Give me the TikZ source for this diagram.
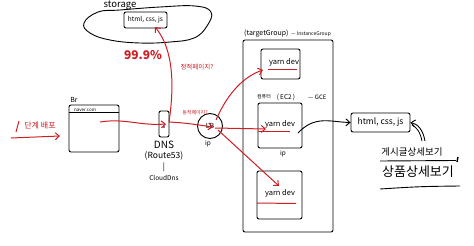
\documentclass[tikz,border=0pt]{standalone}
\usepackage{fontspec}
\setmainfont{Noto Sans CJK KR}
\usetikzlibrary{arrows.meta}
\definecolor{hred}{RGB}{205,30,35}
\begin{document}
\begin{tikzpicture}[x=1pt,y=-1pt,
  box/.style={draw,rounded corners=2pt,line width=0.9pt,inner sep=0pt},
  rline/.style={draw=hred,line width=1pt},
  rarr/.style={draw=hred,line width=1pt,-{Straight Barb[length=4pt,width=7pt]}},
  barr/.style={draw,line width=0.9pt,-{Straight Barb[length=4pt,width=7pt]}},
  lbl/.style={inner sep=0pt},
  rlbl/.style={inner sep=0pt,text=hred}]
\useasboundingbox (0,0) rectangle (474,246);
% storage cloud
\draw[line width=0.9pt] plot[smooth cycle,tension=0.7] coordinates {(84,23) (98,12) (120,10) (160,7) (195,6) (211,12) (207,26) (194,38) (170,42) (140,43) (110,40) (90,33)};
\node[lbl,font=\fontsize{9.5}{10}\selectfont] (storage) at (120,5.5) {storage};
\node[box,minimum width=43pt,minimum height=16pt,font=\fontsize{6.5}{7}\selectfont] (html1) at (145.5,20) {html, css, js};
\node[rlbl,font=\bfseries\fontsize{12}{12}\selectfont] (pct) at (143,55) {99.9\%};
\node[rlbl,font=\fontsize{6.5}{7}\selectfont] (static) at (197,67) {정적페이지?};
% browser
\node[lbl,font=\fontsize{7}{7}\selectfont] (br) at (74,100) {Br};
\node[box,minimum width=50pt,minimum height=47pt] (browser) at (94,128.5) {};
\draw[line width=0.8pt] (browser.north west) ++(0,8) -- ++(50,0);
\node[lbl,font=\fontsize{4.5}{5}\selectfont] (naver) at (85,110) {naver.com};
% deploy
\draw[rline] (19,121) -- (16,132);
\node[rlbl,font=\fontsize{8}{8}\selectfont] (deploy) at (40,126) {단계 배포};
\coordinate (dstart) at (11,138);
\coordinate (dend) at (60,136);
\draw[rarr] (dstart) -- (dend);
% DNS
\node[box,minimum width=10pt,minimum height=26pt] (dns) at (164,124) {};
\fill (164,127) circle (0.8pt);
\node[lbl,font=\fontsize{10}{10}\selectfont] (dnsl) at (164,145) {DNS};
\node[lbl,font=\fontsize{8.5}{9}\selectfont] (route) at (164,156) {(Route53)};
\node[lbl,font=\fontsize{8}{8}\selectfont] (bar) at (164,167.5) {|};
\node[lbl,font=\fontsize{6.5}{7}\selectfont] (cloud) at (164,178) {CloudDns};
\node[rlbl,font=\fontsize{5}{5}\selectfont] (dyn) at (195,113) {동적페이지?};
% LB
\node[draw,circle,line width=0.9pt,minimum size=25pt,inner sep=0pt,font=\fontsize{7}{7}\selectfont] (lb) at (210,126) {LB\hspace{4pt}};
\node[lbl,font=\fontsize{6.5}{7}\selectfont] (ip1) at (208,144) {ip};
% instance group
\node[lbl,font=\fontsize{7}{7}\selectfont,anchor=west] (tg) at (244,34) {(targetGroup)};
\node[lbl,font=\fontsize{5}{5}\selectfont,anchor=west] (igl) at (291,34) {— InstanceGroup};
\node[box,minimum width=90pt,minimum height=192pt] (ig) at (288,136) {};
\node[box,minimum width=39pt,minimum height=30pt] (i1) at (280.5,64) {};
\node[lbl,font=\fontsize{7.5}{8}\selectfont] (y1) at (284,62) {yarn dev};
\draw[rline] (268,69.5) -- (297,69.5);
\node[lbl,font=\fontsize{5}{5}\selectfont] (comp) at (264,97) {컴퓨터};
\node[lbl,font=\fontsize{6.5}{7}\selectfont] (ec2) at (286,97.5) {(\,EC2\,)};
\node[lbl,font=\fontsize{6}{6}\selectfont,anchor=west] (gce) at (308,97) {— GCE};
\node[box,minimum width=44pt,minimum height=45pt] (i2) at (280,125.5) {};
\node[lbl,font=\fontsize{7.5}{8}\selectfont] (y2) at (280,124) {yarn dev};
\draw[rline] (258,131) -- (290,131);
\node[lbl,font=\fontsize{6.5}{7}\selectfont] (ip2) at (283,154) {ip};
\node[box,minimum width=45pt,minimum height=48pt] (i3) at (279.5,195) {};
\node[lbl,font=\fontsize{7.5}{8}\selectfont] (y3) at (280,193.5) {yarn dev};
\draw[rline] (257,203) -- (296,203.5);
% right html box
\node[box,minimum width=59pt,minimum height=19pt,font=\fontsize{8.5}{9}\selectfont] (html2) at (380.5,122.5) {html, css, js};
\node[lbl,font=\fontsize{9.5}{10}\selectfont] (post) at (412,152) {게시글상세보기};
\draw[line width=0.9pt] (380,161) -- (456,160.5);
\draw[line width=1.4pt] (458,157) -- (457,162);
\node[lbl,font=\fontsize{13}{13}\selectfont] (prod) at (418,172) {상품상세보기};
\draw[line width=0.9pt] (380,189) .. controls (420,186.5) .. (460,186);
% connectors
\coordinate (bsrc) at (100,122);
\coordinate (dnsin) at (166,124);
\draw[rarr] (bsrc) .. controls (125,118) and (140,126) .. (dnsin);
\coordinate (dnsup) at (169,122);
\coordinate (stin) at (155,27);
\draw[rarr] (dnsup) .. controls (176,75) and (170,45) .. (stin);
\coordinate (lbin) at (213,127);
\draw[rarr] (dnsup) .. controls (185,123) .. (lbin);
\coordinate (lbr1) at (216,120);
\coordinate (i1in) at (263,70);
\draw[rarr] (lbr1) .. controls (228,92) and (245,76) .. (i1in);
\coordinate (lbr2) at (215,128);
\coordinate (i2in) at (266,129);
\draw[rarr] (lbr2) -- (i2in);
\coordinate (lbr3) at (218,130);
\coordinate (i3in) at (279,186);
\draw[rarr] (lbr3) -- (i3in);
\coordinate (i2out) at (298,133);
\draw[barr] (i2out) .. controls (315,115) and (330,122) .. (html2.west);
\coordinate (psrc) at (425,141);
\draw[barr] (psrc) .. controls (423,130) and (418,124) .. (html2.east);
\draw[line width=0.8pt] (422,141) .. controls (420,131) and (416,127) .. (412,125);
\end{tikzpicture}
\end{document}
